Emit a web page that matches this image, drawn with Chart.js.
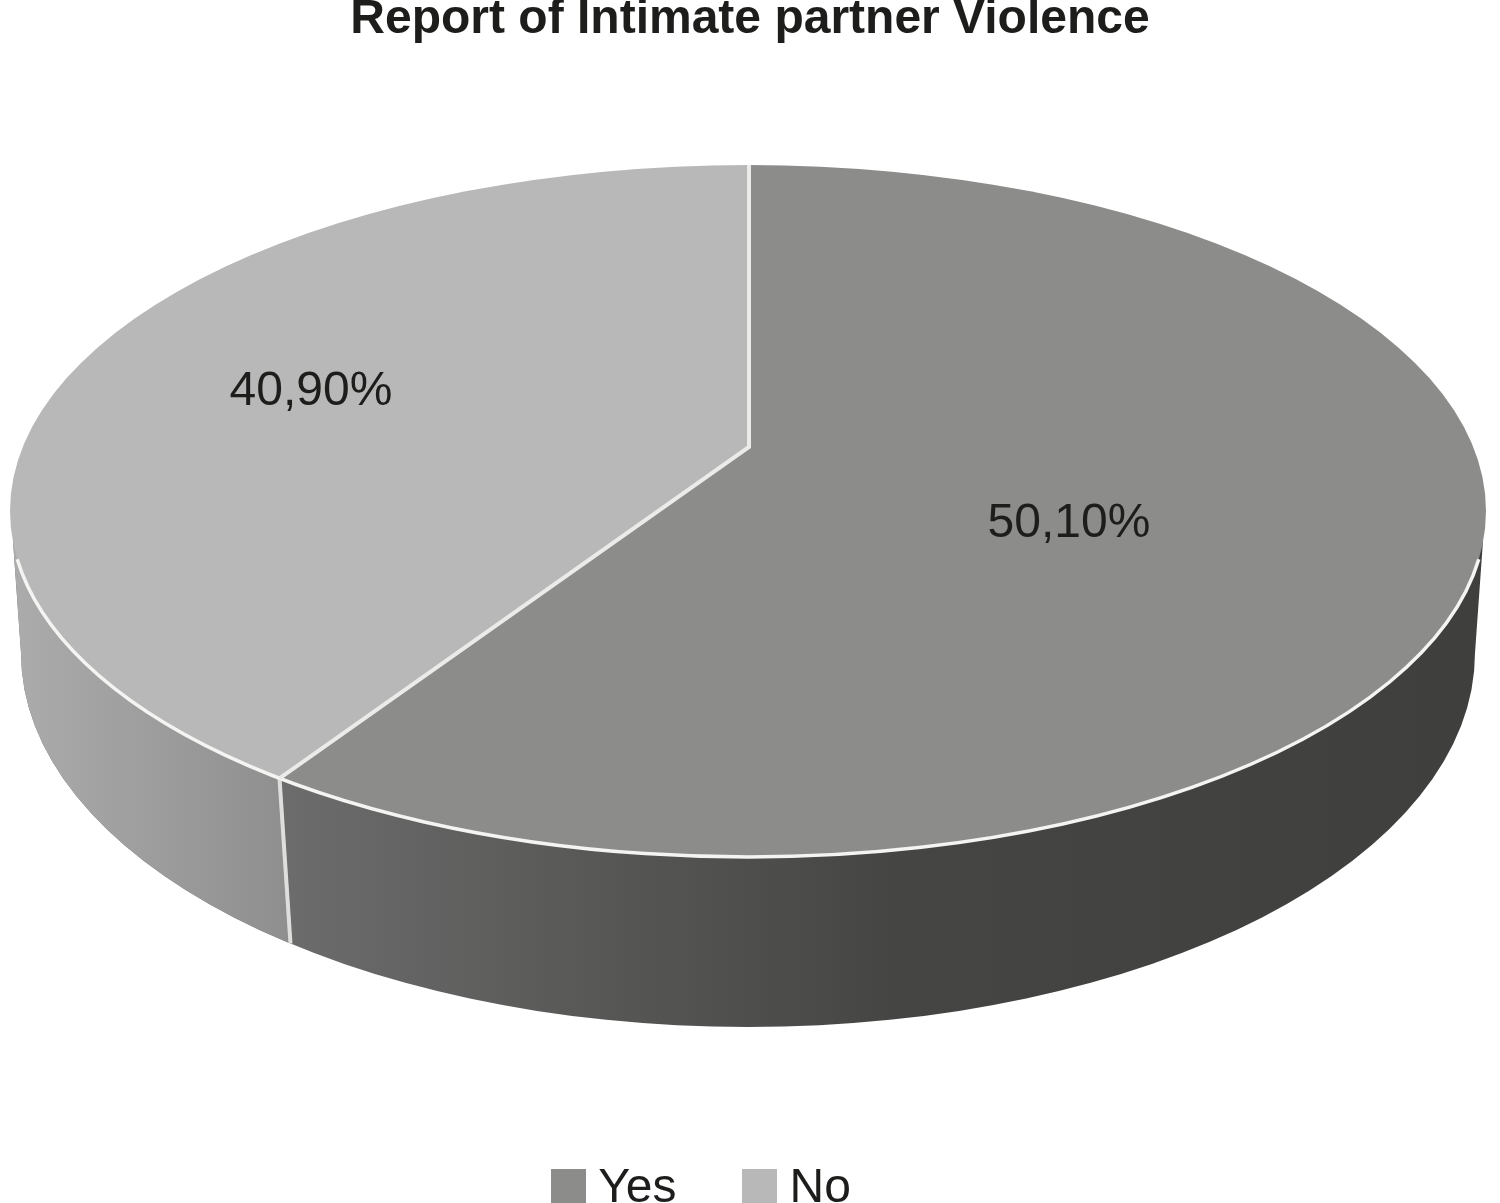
<!DOCTYPE html>
<html>
<head>
<meta charset="utf-8">
<title>Report of Intimate partner Violence</title>
<script src="https://cdn.jsdelivr.net/npm/chart.js"></script>
<style>
  body { margin: 0; background: #fff; }
  canvas { display: block; }
</style>
</head>
<body>
<canvas id="myChart" width="1500" height="1203"></canvas>
<script>
const labels = ["Yes", "No"];
const values = [50.1, 40.9];
const topColors = ["#8c8c8a", "#b8b8b8"];
const chartTitle = "Report of Intimate partner Violence";
const textColor = "#1d1d1b";
const fontName = "'Liberation Sans', Arial, sans-serif";

// fake 3D: top ellipse, lower rim ellipse, and where the slices meet on the top face
const topEllipse = { x: 748, y: 511, rx: 738, ry: 346 };
const rimEllipse = { x: 748, y: 653, rx: 727, ry: 374 };
const apex = { x: 749, y: 447 };
const squash = 0.232;
const coverRadius = 2000;
const seamLean = 11;

// side wall colours, left to right, stop position is px along x
const wallNoStops = [[18, "#ababab"], [285, "#8f8f8f"]];
const wallYesStops = [[285, "#6c6c6c"], [620, "#565655"], [900, "#454543"], [1478, "#3f3f3d"]];

// text spot of each value, relative to the apex
const labelOffsets = [[320, 77], [-438, -55]];

// legend box is a small canvas so the text can sit closer than the library's default gap
const legendBoxSize = 35;
const legendBoxLift = 6;
const legendShift = 86;

function legendBox(color) {
  const c = document.createElement("canvas");
  c.width = legendBoxSize;
  c.height = legendBoxSize + legendBoxLift;
  const g = c.getContext("2d");
  g.fillStyle = color;
  g.fillRect(0, 0, legendBoxSize, legendBoxSize);
  return c;
}

function rayToEllipse(angle) {
  const dx = Math.cos(angle);
  const dy = Math.sin(angle) * squash;
  const ox = (apex.x - topEllipse.x) / topEllipse.rx;
  const oy = (apex.y - topEllipse.y) / topEllipse.ry;
  const ux = dx / topEllipse.rx;
  const uy = dy / topEllipse.ry;
  const a = ux * ux + uy * uy;
  const b = 2 * (ox * ux + oy * uy);
  const c = ox * ox + oy * oy - 1;
  const t = (-b + Math.sqrt(b * b - 4 * a * c)) / (2 * a);
  return { x: apex.x + dx * t, y: apex.y + dy * t };
}

function rimYAt(x) {
  const u = (x - rimEllipse.x) / rimEllipse.rx;
  return rimEllipse.y + rimEllipse.ry * Math.sqrt(1 - u * u);
}

function wallPath(ctx) {
  ctx.beginPath();
  ctx.moveTo(topEllipse.x - topEllipse.rx + 3, topEllipse.y + 30);
  ctx.lineTo(rimEllipse.x - rimEllipse.rx, rimEllipse.y);
  ctx.ellipse(rimEllipse.x, rimEllipse.y, rimEllipse.rx, rimEllipse.ry, 0, Math.PI, 0, true);
  ctx.lineTo(topEllipse.x + topEllipse.rx - 3, topEllipse.y + 30);
  ctx.closePath();
}

function wallGradient(ctx, stops) {
  const x0 = stops[0][0];
  const x1 = stops[stops.length - 1][0];
  const g = ctx.createLinearGradient(x0, 0, x1, 0);
  stops.forEach(s => g.addColorStop((s[0] - x0) / (x1 - x0), s[1]));
  return g;
}

const fake3d = {
  id: "fake3d",
  afterLayout(chart) {
    // legend sits left of the chart centre in the original
    chart.legend.right -= legendShift;
  },
  beforeDatasetsDraw(chart) {
    const ctx = chart.ctx;
    const arcs = chart.getDatasetMeta(0).data;
    const seam = rayToEllipse(arcs[0].endAngle);
    const seamX = seam.x + seamLean;
    const seamY = rimYAt(seamX);

    // side wall: Yes everywhere, then No on the left of the seam
    ctx.save();
    wallPath(ctx);
    ctx.clip();
    ctx.fillStyle = wallGradient(ctx, wallYesStops);
    ctx.fillRect(0, 0, chart.width, chart.height);
    ctx.fillStyle = wallGradient(ctx, wallNoStops);
    ctx.beginPath();
    ctx.moveTo(0, 0);
    ctx.lineTo(seam.x, 0);
    ctx.lineTo(seam.x, seam.y);
    ctx.lineTo(seamX, seamY);
    ctx.lineTo(0, seamY);
    ctx.closePath();
    ctx.fill();
    ctx.strokeStyle = "#dededc";
    ctx.lineWidth = 4;
    ctx.beginPath();
    ctx.moveTo(seam.x, seam.y);
    ctx.lineTo(seamX, seamY);
    ctx.stroke();
    ctx.restore();

    // top face: the library's arcs, squashed around the apex and cut by the ellipse
    const r = arcs[0].outerRadius;
    ctx.save();
    ctx.beginPath();
    ctx.ellipse(topEllipse.x, topEllipse.y, topEllipse.rx, topEllipse.ry, 0, 0, Math.PI * 2);
    ctx.clip();
    ctx.translate(apex.x, apex.y);
    ctx.scale(coverRadius / r, coverRadius * squash / r);
    ctx.translate(-arcs[0].x, -arcs[0].y);
  },
  afterDatasetsDraw(chart) {
    const ctx = chart.ctx;
    const arcs = chart.getDatasetMeta(0).data;
    ctx.restore();

    ctx.strokeStyle = "#f4f4f2";
    ctx.lineWidth = 3.5;
    ctx.beginPath();
    ctx.ellipse(topEllipse.x, topEllipse.y, topEllipse.rx, topEllipse.ry, 0, 0.14, Math.PI - 0.14);
    ctx.stroke();

    ctx.beginPath();
    const seam = rayToEllipse(arcs[0].endAngle);
    const top = rayToEllipse(arcs[0].startAngle);
    ctx.moveTo(seam.x, seam.y);
    ctx.lineTo(apex.x, apex.y);
    ctx.lineTo(top.x, top.y);
    ctx.strokeStyle = "#ebebe9";
    ctx.lineWidth = 4;
    ctx.stroke();

    ctx.fillStyle = textColor;
    ctx.font = "48px " + fontName;
    ctx.textAlign = "center";
    ctx.textBaseline = "middle";
    values.forEach((v, i) => {
      const text = v.toFixed(2).replace(".", ",") + "%";
      ctx.fillText(text, apex.x + labelOffsets[i][0], apex.y + labelOffsets[i][1]);
    });
  }
};

new Chart(document.getElementById("myChart"), {
  type: "pie",
  data: {
    labels: labels,
    datasets: [{
      data: values,
      backgroundColor: topColors,
      borderWidth: 0,
      clip: false
    }]
  },
  options: {
    responsive: false,
    animation: false,
    events: [],
    layout: { padding: { bottom: -20 } },
    plugins: {
      title: {
        display: true,
        text: chartTitle,
        color: textColor,
        font: { family: fontName, size: 48, weight: "bold", lineHeight: 0.82 },
        padding: { top: 0, bottom: 10 }
      },
      legend: {
        position: "bottom",
        labels: {
          color: textColor,
          font: { family: fontName, size: 48 },
          usePointStyle: true,
          boxWidth: 11,
          boxHeight: 35,
          padding: 78,
          generateLabels(chart) {
            const items = Chart.overrides.pie.plugins.legend.labels.generateLabels(chart);
            items.forEach((item, i) => { item.pointStyle = legendBox(topColors[i]); });
            return items;
          }
        }
      },
      tooltip: { enabled: false }
    }
  },
  plugins: [fake3d]
});
</script>
</body>
</html>
